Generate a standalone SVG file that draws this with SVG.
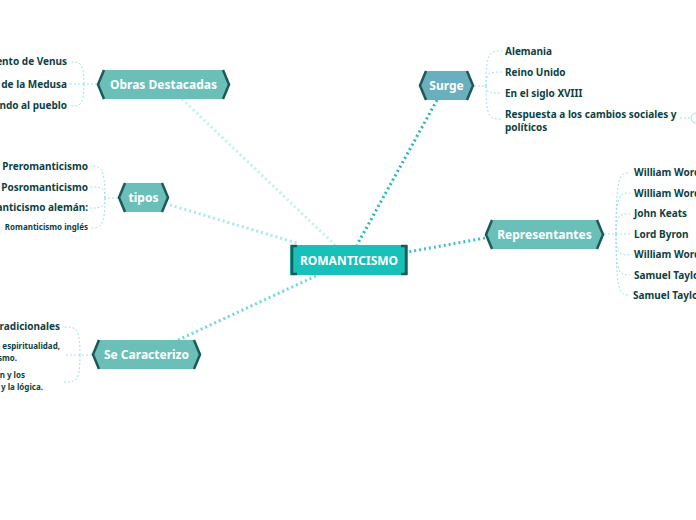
<svg xmlns="http://www.w3.org/2000/svg" width="696" height="520" viewBox="0 0 696 520">
<style>
text{font-family:"Noto Sans","Open Sans",sans-serif;font-weight:bold;}
.t{font-size:10px;fill:#0e3f44;}
.s{font-size:8px;fill:#0e3f44;}
.n{font-size:12px;fill:#fff;}
.main{stroke-width:3;stroke-dasharray:2 3;fill:none;}
.br{stroke:#9ee3e6;stroke-width:1;stroke-dasharray:2 2;fill:none;}
.cap{fill:none;stroke:#1d5a57;stroke-width:2.5;}
</style>
<rect width="696" height="520" fill="#fff"/>
<g id="connectors">
<path class="main" stroke="#bff0f2" d="M182 99 L335 245"/>
<path class="main" stroke="#a8e8ec" d="M170 205 L297 243"/>
<path class="main" stroke="#6fd6da" d="M178 340 L318 275"/>
<path class="main" stroke="#23b8bd" d="M437 100 L357 245"/>
<path class="main" stroke="#3dc3c7" d="M485 238 L408 252"/>
<path class="br" d="M97 84 H84 M84 84 C84 62 80 62 70 62 M84 84 H70 M84 84 C84 106 80 106 70 106"/>
<path class="br" d="M118 198 H105 M105 198 C105 166 100 166 90 166 M105 198 C105 187 100 187 90 187 M105 198 C105 208 100 208 90 208 M105 198 C105 228 100 228 90 228"/>
<path class="br" d="M92 355 H80 M80 355 C80 327 76 327 64 327 M80 355 H64 M80 355 C80 382 76 382 64 382"/>
<path class="br" d="M474 86 H486 M486 86 C486 51 490 51 502 51 M486 86 C486 72 490 72 502 72 M486 86 C486 93 490 93 502 93 M486 86 C486 119 490 119 502 119"/>
<path class="br" d="M604 234 H616 M616 234 C616 173 620 173 630 173 M616 234 C616 193 620 193 630 193 M616 234 C616 214 620 214 630 214 M616 234 H630 M616 234 C616 255 620 255 630 255 M616 234 C616 275 620 275 630 275 M616 234 C616 295 620 295 630 295"/>
<path class="br" d="M680 118 H690"/>
<circle cx="696" cy="118" r="5" fill="#fff" stroke="#9ee3e6"/>
</g>
<g id="romanticismo">
<rect x="290" y="245" width="118" height="30" fill="#17c1b9"/>
<path class="cap" stroke="#136b66" d="M297 246 H292 V274 H297 M401 246 H406 V274 H401"/>
<text class="n" x="349" y="265" text-anchor="middle" font-size="11">ROMANTICISMO</text>
</g>
<g id="obras">
<path d="M104 70 H223 L230 84.5 L223 99 H104 L97 84.5 Z" fill="#6bbfb9"/>
<path class="cap" d="M104 70 L98 84.5 L104 99 M223 70 L229 84.5 L223 99"/>
<text class="n" x="163.5" y="89" text-anchor="middle">Obras Destacadas</text>
<text class="t" x="67" y="65" text-anchor="end">Nacimiento de Venus</text>
<text class="t" x="67" y="88" text-anchor="end">La balsa de la Medusa</text>
<text class="t" x="67" y="109" text-anchor="end">La libertad guiando al pueblo</text>
</g>
<g id="tipos">
<path d="M125 183 H162 L169 197.5 L162 212 H125 L118 197.5 Z" fill="#6bbfb9"/>
<path class="cap" d="M125 183 L119 197.5 L125 212 M162 183 L168 197.5 L162 212"/>
<text class="n" x="143.5" y="202" text-anchor="middle">tipos</text>
<text class="t" x="88" y="170" text-anchor="end">Preromanticismo</text>
<text class="t" x="88" y="191" text-anchor="end">Posromanticismo</text>
<text class="t" x="88" y="211" text-anchor="end">Romanticismo alemán:</text>
<text class="s" x="88" y="230" text-anchor="end">Romanticismo inglés</text>
</g>
<g id="caracterizo">
<path d="M99 340 H194 L201 354.5 L194 369 H99 L92 354.5 Z" fill="#6bbfb9"/>
<path class="cap" d="M99 340 L93 354.5 L99 369 M194 340 L200 354.5 L194 369"/>
<text class="n" x="146.5" y="359" text-anchor="middle">Se Caracterizo</text>
<text class="t" x="60" y="330" text-anchor="end">Rechazo a los valores tradicionales</text>
<text class="s" x="60" y="349" text-anchor="end" font-size="9">Exaltación de la espiritualidad,</text>
<text class="s" x="17" y="361" text-anchor="end" font-size="9">el individualismo.</text>
<text class="s" x="25" y="378" text-anchor="end">Oposición a la razón y los</text>
<text class="s" x="43" y="390" text-anchor="end">principios y la lógica.</text>
</g>
<g id="surge">
<path d="M426 71 H467 L474 85.5 L467 100 H426 L419 85.5 Z" fill="#6aafbd"/>
<path class="cap" d="M426 71 L420 85.5 L426 100 M467 71 L473 85.5 L467 100"/>
<text class="n" x="446.5" y="90" text-anchor="middle">Surge</text>
<text class="t" x="505" y="55">Alemania</text>
<text class="t" x="505" y="76">Reino Unido</text>
<text class="t" x="505" y="97">En el siglo XVIII</text>
<text class="t" x="505" y="118">Respuesta a los cambios sociales y</text>
<text class="t" x="505" y="131">políticos</text>
</g>
<g id="representantes">
<path d="M492 220 H597 L604 234.5 L597 249 H492 L485 234.5 Z" fill="#6bbfb9"/>
<path class="cap" d="M492 220 L486 234.5 L492 249 M597 220 L603 234.5 L597 249"/>
<text class="n" x="544.5" y="239" text-anchor="middle">Representantes</text>
<text class="t" x="634" y="176">William Wordsworth</text>
<text class="t" x="634" y="197">William Wordsworth</text>
<text class="t" x="634" y="217">John Keats</text>
<text class="t" x="634" y="238">Lord Byron</text>
<text class="t" x="634" y="258">William Wordsworth</text>
<text class="t" x="634" y="279">Samuel Taylor Coleridge</text>
<text class="t" x="633" y="299">Samuel Taylor Coleridge</text>
</g>
</svg>
